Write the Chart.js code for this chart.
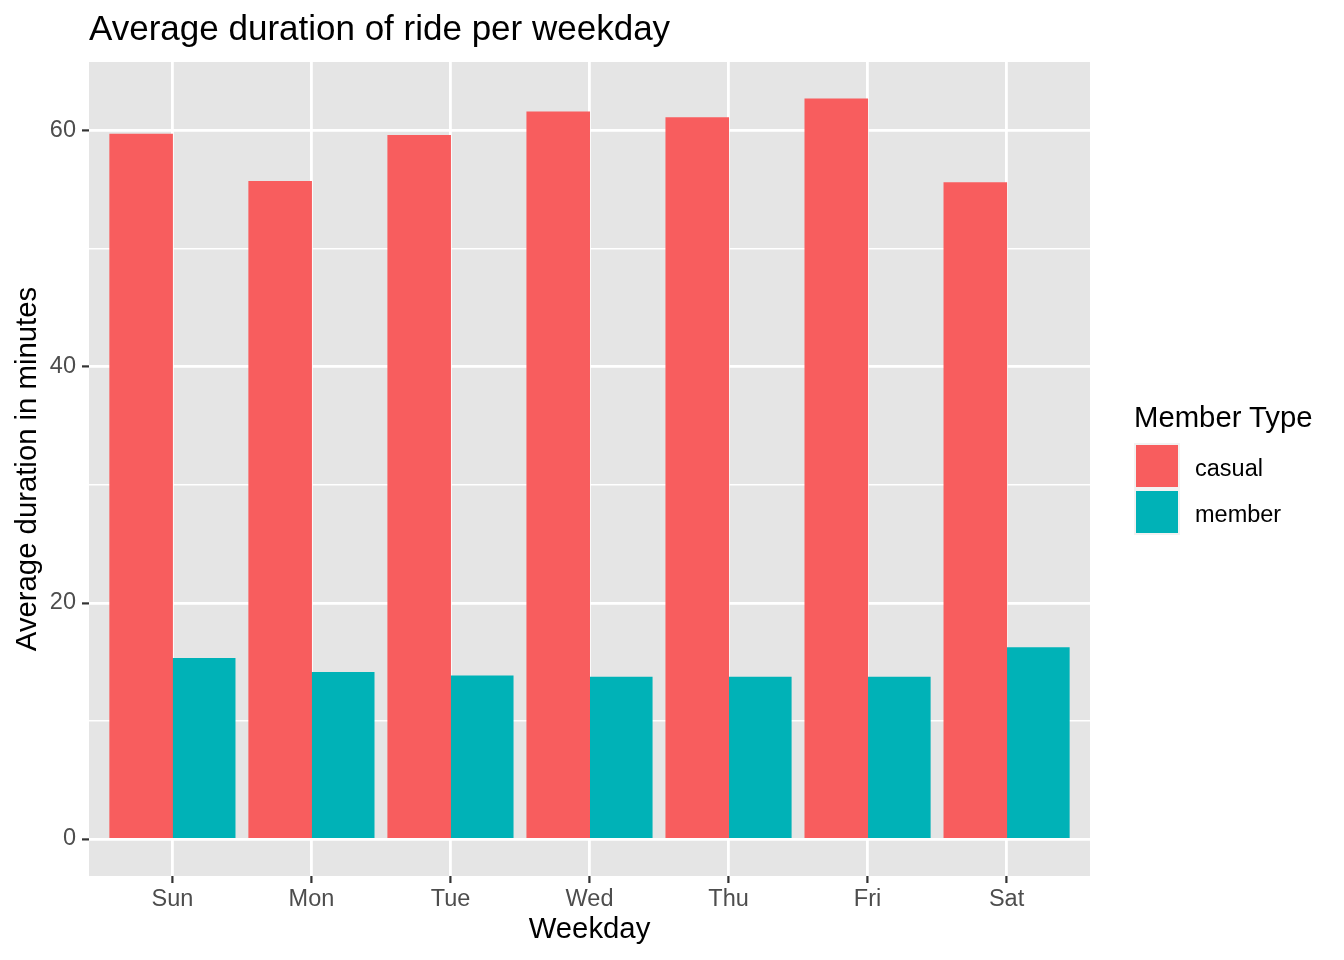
<!DOCTYPE html>
<html>
<head>
<meta charset="utf-8">
<title>Average duration of ride per weekday</title>
<script src="https://cdn.jsdelivr.net/npm/chart.js@4.4.1/dist/chart.umd.min.js"></script>
<style>
  body { margin: 0; background: #ffffff; }
  #wrap { position: relative; width: 1344px; height: 960px; font-family: "Liberation Sans", Arial, sans-serif; }
  #legend { position: absolute; left: 1134px; top: 402px; }
  #legend .ttl { font-size: 29.3px; line-height: 29.3px; color: #000; white-space: nowrap; }
  #legend .row { position: relative; height: 46px; }
  #legend .key { position: absolute; left: 0; top: 0; width: 42px; height: 42px; border: 2px solid #f2f2f2; }
  #legend .lab { position: absolute; left: 61px; top: 2px; line-height: 46px; font-size: 23.5px; color: #000; white-space: nowrap; }
</style>
</head>
<body>
<div id="wrap">
  <canvas id="rideChart" width="1344" height="960"></canvas>
  <div id="legend"></div>
</div>
<script>
// Data
const weekdays = ["Sun", "Mon", "Tue", "Wed", "Thu", "Fri", "Sat"];
const casualMinutes = [59.7, 55.7, 59.6, 61.6, 61.1, 62.7, 55.6];
const memberMinutes = [15.3, 14.1, 13.8, 13.7, 13.7, 13.7, 16.2];
const yTicks = [0, 10, 20, 30, 40, 50, 60];

const FONT = "'Liberation Sans', Arial, sans-serif";

// grey panel behind the plot area
const panelBg = {
  id: "panelBg",
  beforeDraw(chart) {
    const { ctx, chartArea } = chart;
    ctx.save();
    ctx.fillStyle = "#e5e5e5";
    ctx.fillRect(chartArea.left, chartArea.top, chartArea.right - chartArea.left, chartArea.bottom - chartArea.top);
    ctx.restore();
  },
};

document.addEventListener("DOMContentLoaded", function () {
  const ctx = document.getElementById("rideChart").getContext("2d");
  const chart = new Chart(ctx, {
    type: "bar",
    data: {
      datasets: [
        {
          label: "casual",
          data: casualMinutes.map((v, i) => ({ x: i + 1, y: v })),
          backgroundColor: "#f85d5e",
          borderWidth: 0,
          inflateAmount: 0.5,
          categoryPercentage: 0.9,
          barPercentage: 1.0,
        },
        {
          label: "member",
          data: memberMinutes.map((v, i) => ({ x: i + 1, y: v })),
          backgroundColor: "#00b2b7",
          borderWidth: 0,
          inflateAmount: 0.5,
          categoryPercentage: 0.9,
          barPercentage: 1.0,
        },
      ],
    },
    options: {
      responsive: false,
      animation: false,
      layout: { padding: { top: 9, right: 254, bottom: 0, left: 0 } },
      plugins: {
        legend: { display: false },
        tooltip: { enabled: false },
        title: {
          display: true,
          text: "Average duration of ride per weekday",
          align: "start",
          fullSize: false,
          color: "#000000",
          font: { family: FONT, size: 35, weight: "normal" },
          padding: { top: 0, bottom: 11 },
        },
      },
      scales: {
        x: {
          type: "linear",
          min: 0.4,
          max: 7.6,
          offset: false,
          afterBuildTicks(axis) {
            axis.ticks = weekdays.map((d, i) => ({ value: i + 1 }));
          },
          afterFit(axis) {
            axis.height = 84;
          },
          grid: {
            offset: false,
            color: "#ffffff",
            lineWidth: 2.8,
            tickColor: "#333333",
            tickLength: 7,
            tickWidth: 2.2,
          },
          border: { display: false },
          ticks: {
            padding: 2,
            color: "#4d4d4d",
            font: { family: FONT, size: 23.5 },
            maxRotation: 0,
            callback: (value) => weekdays[value - 1],
          },
          title: {
            display: true,
            text: "Weekday",
            color: "#000000",
            font: { family: FONT, size: 29.3 },
            padding: { top: 0, bottom: 13 },
          },
        },
        y: {
          min: -3.135,
          max: 65.83,
          afterBuildTicks(axis) {
            axis.ticks = yTicks.map((v) => ({ value: v }));
          },
          afterFit(axis) {
            axis.width = 89;
          },
          grid: {
            color: "#ffffff",
            lineWidth: (c) => (c.tick && c.tick.value % 20 === 0 ? 2.8 : 1.4),
            tickColor: (c) => (c.tick && c.tick.value % 20 === 0 ? "#333333" : "rgba(0,0,0,0)"),
            tickLength: 7,
            tickWidth: 2.2,
          },
          border: { display: false },
          ticks: {
            padding: 6,
            color: "#4d4d4d",
            font: { family: FONT, size: 23.5 },
            callback: (value) => (value % 20 === 0 ? String(value) : ""),
          },
          title: {
            display: true,
            text: "Average duration in minutes",
            color: "#000000",
            font: { family: FONT, size: 29.3 },
            padding: { top: 10, bottom: 0 },
          },
        },
      },
    },
    plugins: [panelBg],
  });

  // legend built from the datasets, placed like the ggplot guide
  const legend = document.getElementById("legend");
  let html = '<div class="ttl">Member Type</div><div style="height:12px"></div>';
  chart.data.datasets.forEach((ds) => {
    html += '<div class="row"><div class="key" style="background:' + ds.backgroundColor +
      '"></div><div class="lab">' + ds.label + "</div></div>";
  });
  legend.innerHTML = html;
});
</script>
</body>
</html>
